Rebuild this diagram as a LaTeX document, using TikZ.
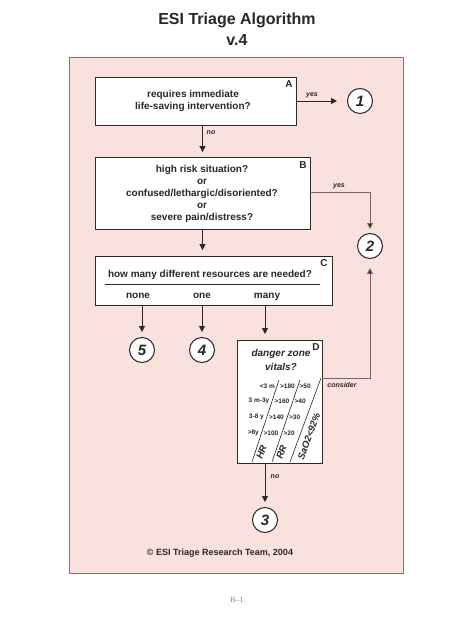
\documentclass[tikz,border=0pt]{standalone}
\usepackage{fontspec}
\setmainfont{Liberation Sans}
\newfontfamily\serifface{Liberation Serif}
\usetikzlibrary{arrows.meta,calc}
\definecolor{pinkbg}{RGB}{249,225,222}
\definecolor{framec}{RGB}{140,115,112}
\definecolor{linec}{RGB}{45,38,38}
\definecolor{connc}{RGB}{125,100,98}
\begin{document}
\begin{tikzpicture}[x=1pt,y=-1pt,
  qbox/.style={draw=linec, line width=0.8pt, fill=white, inner sep=0pt},
  qtext/.style={font=\bfseries\fontsize{10}{12}\selectfont, text=linec, align=center, inner sep=0pt},
  corner/.style={font=\bfseries\fontsize{10}{12}\selectfont, text=linec, inner sep=0pt},
  esi/.style={circle, draw=linec, line width=1pt, fill=white, minimum size=25pt, inner sep=0pt,
    font=\bfseries\itshape\fontsize{15}{15}\selectfont, text=linec},
  arr/.style={draw=linec, line width=0.9pt, -{Triangle[length=6pt,width=6pt]}},
  conn/.style={draw=connc, line width=0.9pt, -{Triangle[length=6pt,width=6pt,fill=linec]}},
  lab/.style={font=\bfseries\itshape\fontsize{7}{8}\selectfont, text=linec, inner sep=0pt},
  vit/.style={font=\bfseries\fontsize{6.5}{7}\selectfont, text=linec, inner sep=0pt},
  rot/.style={font=\bfseries\itshape\fontsize{9.5}{10}\selectfont, text=linec, inner sep=0pt, rotate=70}
]
\useasboundingbox (0,0) rectangle (474,632);
\fill[white] (0,0) rectangle (474,632);

% title
\node[font=\bfseries\fontsize{16}{18}\selectfont, text=linec, inner sep=0pt] (title) at (237,20) {ESI Triage Algorithm};
\node[font=\bfseries\fontsize{16}{18}\selectfont, text=linec, inner sep=0pt] (version) at (237,40) {v.4};

% frame
\node[draw=framec, fill=pinkbg, line width=1pt, minimum width=334pt, minimum height=516pt, inner sep=0pt] (frame) at (236,315) {};

% box A
\node[qbox, minimum width=201pt, minimum height=48pt] (A) at (195.5,101) {};
\node[qtext] (Atext) at (193,101) {requires immediate\\life-saving intervention?};
\node[corner] (Alab) at (289,84) {A};

% box B
\node[qbox, minimum width=215pt, minimum height=72pt] (B) at (202.5,193) {};
\node[qtext] (Btext) at (202,194) {high risk situation?\\or\\confused/lethargic/disoriented?\\or\\severe pain/distress?};
\node[corner] (Blab) at (303,165) {B};

% box C
\node[qbox, minimum width=237pt, minimum height=49pt] (C) at (213.5,280.5) {};
\node[qtext, anchor=base] (Ctext) at (210,277) {how many different resources are needed?};
\node[corner] (Clab) at (324,263) {C};
\coordinate (rl) at (105,284);
\coordinate (rr) at (320,284);
\draw[linec, line width=0.6pt] (rl) -- (rr);
\node[qtext, anchor=base] (none) at (138,298.5) {none};
\node[qtext, anchor=base] (one) at (202,298.5) {one};
\node[qtext, anchor=base] (many) at (267,298.5) {many};

% box D
\node[qbox, minimum width=85pt, minimum height=123pt] (D) at (279.5,401.5) {};
\node[corner] (Dlab) at (316,347) {D};
\node[qtext, font=\bfseries\itshape\fontsize{10}{14}\selectfont] (Dtext) at (281,360) {danger zone\\vitals?};

% slanted lines in D
\coordinate (l1b) at (252,462);
\coordinate (l1t) at (279,380);
\coordinate (l2b) at (272,462);
\coordinate (l2t) at (300,380);
\coordinate (l3b) at (290,462);
\coordinate (l3t) at (321,378);
\draw[linec, line width=0.6pt] (l1b) -- (l1t);
\draw[linec, line width=0.6pt] (l2b) -- (l2t);
\draw[linec, line width=0.6pt] (l3b) -- (l3t);

% row texts
\node[vit, anchor=east] (r1a) at (275,386) {<3 m};
\node[vit, anchor=west] (r1b) at (280,386) {>180};
\node[vit, anchor=west] (r1c) at (299.5,386) {>50};
\node[vit, anchor=east] (r2a) at (269.5,401) {3 m-3y};
\node[vit, anchor=west] (r2b) at (274.5,401) {>160};
\node[vit, anchor=west] (r2c) at (294.5,401) {>40};
\node[vit, anchor=east] (r3a) at (264,417) {3-8 y};
\node[vit, anchor=west] (r3b) at (269,417) {>140};
\node[vit, anchor=west] (r3c) at (289,417) {>30};
\node[vit, anchor=east] (r4a) at (259,433) {>8y};
\node[vit, anchor=west] (r4b) at (263.5,433) {>100};
\node[vit, anchor=west] (r4c) at (283.5,433) {>20};
\node[rot] (hr) at (261.5,452) {HR};
\node[rot] (rr) at (281.5,452) {RR};
\node[rot] (sao) at (309,436) {SaO2<92\%};

% ESI circles
\node[esi] (e1) at (360,101) {1};
\node[esi] (e2) at (370,246) {2};
\node[esi] (e5) at (142,350) {5};
\node[esi] (e4) at (202,350) {4};
\node[esi] (e3) at (265,520) {3};

% connectors
\draw[arr, shorten >=10pt] (A.east |- e1) -- (e1.west);
\node[lab] (yesA) at (312,95) {yes};
\draw[arr, shorten >=4.5pt] (A.south -| B.north) -- (B.north);
\node[lab] (noA) at (211,133) {no};

\coordinate (bturn) at (370,192);
\draw[conn, shorten >=4pt] (B.east |- bturn) -- (bturn) -- (e2.north);
\node[lab] (yesB) at (339,186) {yes};

\draw[arr, shorten >=5.5pt] (B.south) -- (B.south |- C.north);

\draw[arr, shorten >=5pt] (e5.north |- C.south) -- (e5.north);
\draw[arr, shorten >=5pt] (e4.north |- C.south) -- (e4.north);
\coordinate (manyfoot) at (265,305);
\coordinate (dtop) at (265,340);
\draw[arr, shorten >=6pt] (manyfoot) -- (dtop);

\coordinate (dturn) at (370,378);
\draw[conn, shorten >=9pt] (D.east |- dturn) -- (dturn) -- (e2.south);
\node[lab] (consider) at (342,385) {consider};

\draw[arr, shorten >=5pt] (e3.north |- D.south) -- (e3.north);
\node[lab] (noD) at (275,477) {no};

% copyright
\node[font=\bfseries\fontsize{9}{10}\selectfont, text=linec, inner sep=0pt] (copy) at (220,553) {\textcopyright{} ESI Triage Research Team, 2004};

% page number
\node[font=\serifface\fontsize{8}{9}\selectfont, text=gray, inner sep=0pt] (page) at (237,600) {B–1};
\end{tikzpicture}
\end{document}
